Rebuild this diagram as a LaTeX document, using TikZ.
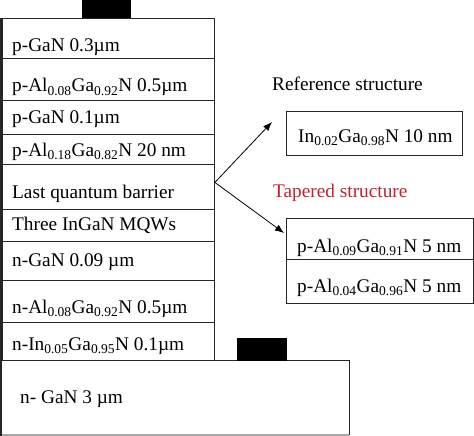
\documentclass[tikz,border=0pt]{standalone}
\usepackage{fontspec}
\setmainfont{Liberation Serif}
\usetikzlibrary{arrows.meta}
\definecolor{tapred}{RGB}{190,35,50}
\tikzset{
  layer/.style={draw=black!85, line width=0.9pt, fill=white},
  lbl/.style={anchor=base west, inner sep=0pt, font=\fontsize{19.3}{22}\selectfont},
  contact/.style={fill=black, draw=black},
  arr/.style={-{Latex[length=9pt,width=7pt]}, line width=0.8pt}
}
\newcommand{\sbs}[1]{\textsubscript{#1}}
\begin{document}
\begin{tikzpicture}[x=1pt,y=-1pt]
\useasboundingbox (0,0) rectangle (474,436);
% contacts
\node[contact, minimum width=48pt, minimum height=18pt, inner sep=0pt, anchor=north west] (ctop) at (82,0) {};
% substrate
\draw[layer] (2,360) -- (349,360) -- (349,435);
\draw[draw=black!35, line width=1.2pt] (2,435) -- (349,435);
\draw[black!85, line width=2pt] (1,18) -- (1,436);
\node[contact, minimum width=49pt, minimum height=22pt, inner sep=0pt, anchor=north west] (cbot) at (237,338) {};
% layers
\foreach \t/\b/\n in {18/58/L1,58/100/L2,100/134/L3,134/164/L4,164/209/L5,209/241/L6,241/280/L7,280/322/L8,322/360/L9}{
  \node[layer, inner sep=0pt, anchor=north west, minimum width=212pt, minimum height={\b-\t}] (\n) at (2,\t) {};
}
\node[lbl] (t1) at (12,52) {p-GaN 0.3µm};
\node[lbl] (t2) at (12,92) {p-Al\sbs{0.08}Ga\sbs{0.92}N 0.5µm};
\node[lbl] (t3) at (12,123) {p-GaN 0.1µm};
\node[lbl] (t4) at (12,156) {p-Al\sbs{0.18}Ga\sbs{0.82}N 20 nm};
\node[lbl] (t5) at (12,198) {Last quantum barrier};
\node[lbl] (t6) at (12,230) {Three InGaN MQWs};
\node[lbl] (t7) at (12,266) {n-GaN 0.09 µm};
\node[lbl] (t8) at (12,313) {n-Al\sbs{0.08}Ga\sbs{0.92}N 0.5µm};
\node[lbl] (t9) at (12,350) {n-In\sbs{0.05}Ga\sbs{0.95}N 0.1µm};
\node[lbl] (t10) at (20,403) {n- GaN 3 µm};
% right side
\node[lbl] (reft) at (272,90) {Reference structure};
\node[layer, inner sep=0pt, anchor=north west, minimum width=176pt, minimum height=44pt] (refbox) at (286,111) {};
\node[lbl] (refl) at (298,142) {In\sbs{0.02}Ga\sbs{0.98}N 10 nm};
\node[lbl, text=tapred] (tapt) at (273,197) {Tapered structure};
\node[layer, inner sep=0pt, anchor=north west, minimum width=187pt, minimum height=41pt] (tap1) at (286,218) {};
\node[layer, inner sep=0pt, anchor=north west, minimum width=187pt, minimum height=44pt] (tap2) at (286,259) {};
\node[lbl] (tapl1) at (297,252) {p-Al\sbs{0.09}Ga\sbs{0.91}N 5 nm};
\node[lbl] (tapl2) at (297,292) {p-Al\sbs{0.04}Ga\sbs{0.96}N 5 nm};
% arrows
\coordinate (e1) at (272,122);
\coordinate (e2) at (284,233);
\draw[arr] (L5.east) ++(0,-4.5) coordinate (s) (s) -- (e1);
\draw[arr] (s) -- (e2);
\end{tikzpicture}
\end{document}
